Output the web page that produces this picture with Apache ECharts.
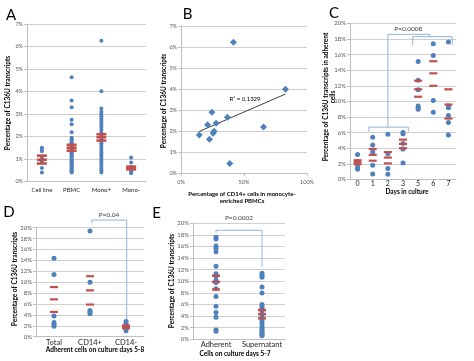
<!DOCTYPE html>
<html><head><meta charset="utf-8">
<script src="https://cdn.jsdelivr.net/npm/echarts/dist/echarts.min.js"></script>
<style>html,body{margin:0;padding:0;background:#fff}#c{width:474px;height:361px}</style>
</head><body><div id="c"></div><script>
// ---------- DATA ----------
// Panel A
const catsA = ['Cell line', 'PBMC', 'Mono+', 'Mono-'];
const A_cellLine = [1.5, 1.45, 1.35, 1.1, 1.0, 0.9, 0.6, 0.4];
const A_pbmc = [4.63, 3.6, 3.3, 2.74, 2.54, 2.19, 1.95, 1.88, 1.82, 1.75, 1.7, 1.65, 1.6, 1.55, 1.5, 1.45, 1.4, 1.35, 1.3, 1.25, 1.2, 1.15, 1.1, 1.05, 1.0, 0.95, 0.9, 0.85, 0.8, 0.75, 0.7, 0.65, 0.6, 0.55, 0.5, 0.45, 0.4];
const A_monoPos = [6.26, 4.01, 3.25, 3.1, 3.0, 2.9, 2.8, 2.7, 2.6, 2.5, 2.4, 2.3, 2.2, 2.1, 2.0, 1.9, 1.8, 1.7, 1.6, 1.5, 1.4, 1.3, 1.2, 1.1, 1.0, 0.9, 0.8, 0.7, 0.6, 0.5, 0.4];
const A_monoNeg = [1.07, 0.84, 0.65, 0.55, 0.45, 0.37];
const A_errHigh = [1.15, 1.63, 2.1, 0.66];
const A_mean = [0.97, 1.5, 1.97, 0.6];
const A_errLow = [0.8, 1.37, 1.82, 0.54];
const A_ticks = [0, 1, 2, 3, 4, 5, 6, 7];

// Panel B
const B_x = [41.6, 82.9, 24.5, 36.8, 27.9, 21.1, 65.5, 14.5, 26.3, 25.5, 22.6, 38.7];
const B_y = [6.23, 3.99, 2.9, 2.66, 2.38, 2.31, 2.2, 1.82, 2.0, 1.9, 1.62, 0.46];
const B_r2Text = 'R² = 0.1329';

// Panel C
const catsC = ['0', '1', '2', '3', '5', '6', '7'];
const C_day0 = [3.2, 2.3, 2.1, 1.9, 1.5, 1.3];
const C_day1 = [5.4, 4.4, 3.5, 1.8, 0.7];
const C_day2 = [5.8, 3.3, 1.4, 0.65];
const C_day3 = [6.0, 5.85, 4.6, 3.9, 2.1];
const C_day5 = [15.1, 12.7, 11.5, 9.4, 9.2, 9.0];
const C_day6 = [17.4, 15.9, 10.1, 8.6];
const C_day7 = [17.6, 9.4, 9.2, 8.2, 7.3, 5.7];
const C_errHigh = [2.45, 3.9, 3.5, 5.1, 12.65, 15.15, 11.55];
const C_mean = [2.2, 3.15, 2.8, 4.55, 11.55, 13.6, 9.6];
const C_errLow = [1.95, 2.4, 2.05, 4.0, 10.6, 12.0, 7.8];
const C_pText = 'P=0.0008';

// Panel D
const catsD = ['Total', 'CD14+', 'CD14-'];
const D_total = [14.4, 11.4, 3.8, 2.6, 2.3, 1.9];
const D_cd14pos = [19.4, 10.0, 4.8, 4.5, 4.2];
const D_cd14neg = [2.8, 2.4, 1.9, 1.7, 1.5, 1.1];
const D_errHigh = [9.1, 11.1, 2.05];
const D_mean = [6.85, 8.5, 1.8];
const D_errLow = [4.55, 5.9, 1.55];
const D_pText = 'P=0.04';

// Panel E
const catsE = ['Adherent', 'Supernatant'];
const E_adherent = [17.6, 17.3, 16.1, 15.7, 15.1, 12.6, 11.3, 10.9, 10.2, 9.8, 8.7, 7.4, 5.7, 4.6, 3.8, 1.6, 1.4];
const E_supernatant = [11.4, 11.0, 10.7, 9.0, 8.0, 6.0, 5.6, 5.3, 4.9, 4.2, 3.8, 3.2, 2.8, 2.3, 1.9, 1.6, 1.3, 1.0, 0.8, 0.6];
const E_errHigh = [10.95, 5.05];
const E_mean = [9.9, 4.35];
const E_errLow = [8.6, 3.6];
const E_pText = 'P=0.0002';

// Significance brackets (category position, value %)
const C_brackets = [
  [[0.75, 6.1], [0.75, 6.7], [3.35, 6.7], [3.35, 6.1]],
  [[2.0, 6.7], [2.0, 18.6], [4.78, 18.6], [4.78, 18.3]],
  [[3.64, 17.2], [3.64, 18.3], [6.25, 18.3], [6.25, 17.2]]
];
const C_pAt = [3.35, 19.3];
const D_brackets = [[[1.05, 20.8], [1.05, 21.4], [2.02, 21.4], [2.02, 3.1]]];
const D_pAt = [1.53, 22.3];
const E_brackets = [[[0, 18.4], [0, 18.8], [1, 18.8], [1, 12.5]]];
const E_pAt = [0.5, 20.9];

// ---------- STYLE ----------
const BLUE = '#4f81bd', RED = '#c0504d', BRK = '#95b3d7';
const FONT = 'Lato';
const GRID_C = '#cfcfcf', AXIS_C = '#bfbfbf', LBL_C = '#595959';

function pts(groups) {
  const out = [];
  groups.forEach((arr, i) => arr.forEach(v => out.push([i, v])));
  return out;
}
function yAx(gi, max, interval, fs) {
  return {
    type: 'value', gridIndex: gi, min: 0, max: max, interval: interval,
    axisLine: { show: true, lineStyle: { color: AXIS_C } },
    axisTick: { show: true, length: 3, lineStyle: { color: AXIS_C } },
    axisLabel: { fontSize: fs, color: LBL_C, margin: 4, fontFamily: FONT, formatter: '{value}%' },
    splitLine: { show: true, lineStyle: { color: GRID_C, width: 1 } }
  };
}
function xCat(gi, cats, fs, margin, color) {
  return {
    type: 'category', gridIndex: gi, data: cats, boundaryGap: true,
    axisLine: { show: true, lineStyle: { color: AXIS_C } },
    axisTick: { show: false },
    axisLabel: { fontSize: fs, color: color || '#262626', margin: margin, interval: 0, fontFamily: FONT },
    splitLine: { show: false }
  };
}
function scatter(gi, data, size, symbol) {
  return {
    type: 'scatter', xAxisIndex: gi, yAxisIndex: gi, data: data,
    symbol: symbol || 'circle', symbolSize: size,
    itemStyle: { color: BLUE, opacity: 1 }, silent: true, z: 2
  };
}
function errSeries(gi, lo, mid, hi, w, h, vline) {
  return {
    type: 'custom', xAxisIndex: gi, yAxisIndex: gi, z: 3, silent: true, clip: false,
    data: lo.map((l, i) => [i, l, mid[i], hi[i]]),
    encode: { x: 0, y: [1, 2, 3] },
    renderItem: function (params, api) {
      const x = api.value(0);
      const ps = [1, 2, 3].map(k => api.coord([x, api.value(k)]));
      const children = [];
      if (vline) {
        children.push({ type: 'line', shape: { x1: ps[0][0], y1: ps[0][1], x2: ps[2][0], y2: ps[2][1] },
          style: { stroke: RED, lineWidth: 1.2 } });
      }
      ps.forEach(p => children.push({ type: 'rect', shape: { x: p[0] - w / 2, y: p[1] - h / 2, width: w, height: h },
        style: { fill: RED } }));
      return { type: 'group', children: children };
    }
  };
}
function bracketSeries(gi, lines, pAt, text) {
  return {
    type: 'custom', xAxisIndex: gi, yAxisIndex: gi, z: 1, silent: true, clip: false,
    data: [[0, 0]], encode: { x: 0, y: 1 },
    renderItem: function (params, api) {
      const x0 = api.coord([0, 0])[0];
      const bw = api.coord([1, 0])[0] - x0;
      const P = p => [x0 + p[0] * bw, api.coord([0, p[1]])[1]];
      const children = lines.map(l => ({ type: 'polyline', shape: { points: l.map(P) },
        style: { stroke: BRK, lineWidth: 1, fill: null } }));
      const t = P(pAt);
      children.push({ type: 'text', x: t[0], y: t[1], style: { text: text, align: 'center', verticalAlign: 'middle',
        fontSize: 6.5, fontFamily: FONT, fill: '#404040' } });
      return { type: 'group', children: children };
    }
  };
}

// regression for B
const n = B_x.length;
const mx = B_x.reduce((a, b) => a + b, 0) / n, my = B_y.reduce((a, b) => a + b, 0) / n;
let sxy = 0, sxx = 0;
for (let i = 0; i < n; i++) { sxy += (B_x[i] - mx) * (B_y[i] - my); sxx += (B_x[i] - mx) ** 2; }
const slope = sxy / sxx, icpt = my - slope * mx;
const xmin = Math.min(...B_x), xmax = Math.max(...B_x);

function txt(x, y, text, fs, bold, rot, extra) {
  return Object.assign({ type: 'text', x: x, y: y, rotation: rot || 0, silent: true,
    style: { text: text, align: 'center', verticalAlign: 'middle', fontSize: fs, fontFamily: FONT,
      fontWeight: bold ? 'bold' : 'normal', fill: '#000', lineHeight: fs + 1.2 } }, extra || {});
}
const R90 = Math.PI / 2;

const option = {
  backgroundColor: '#fff',
  animation: false,
  grid: [
    { left: 27, top: 24, width: 119, height: 157.5 },
    { left: 181, top: 26, width: 126, height: 147.3 },
    { left: 350, top: 23.4, width: 106, height: 156 },
    { left: 36, top: 227.7, width: 108, height: 109 },
    { left: 193, top: 223.3, width: 92, height: 116 }
  ],
  xAxis: [
    xCat(0, catsA, 6, 6),
    { type: 'value', gridIndex: 1, min: 0, max: 100, interval: 50,
      axisLine: { show: true, lineStyle: { color: AXIS_C } },
      axisTick: { show: true, length: 3, lineStyle: { color: AXIS_C } },
      axisLabel: { fontSize: 5.5, color: LBL_C, margin: 6, fontFamily: FONT, formatter: '{value}%' },
      splitLine: { show: false } },
    xCat(2, catsC, 7, 1),
    xCat(3, catsD, 7.5, 1.5),
    xCat(4, catsE, 7.5, 1.5)
  ],
  yAxis: [
    yAx(0, A_ticks[A_ticks.length - 1], 1, 5.5),
    yAx(1, 7, 1, 5.5),
    yAx(2, 20, 2, 6),
    yAx(3, 20, 2, 6),
    yAx(4, 20, 2, 6)
  ],
  series: [
    scatter(0, pts([A_cellLine, A_pbmc, A_monoPos, A_monoNeg]), 4),
    errSeries(0, A_errLow, A_mean, A_errHigh, 10, 2.6, true),
    scatter(1, B_x.map((x, i) => [x, B_y[i]]), 7, 'diamond'),
    { type: 'line', xAxisIndex: 1, yAxisIndex: 1, symbol: 'none', silent: true,
      data: [[xmin, icpt + slope * xmin], [xmax, icpt + slope * xmax]],
      lineStyle: { color: '#404040', width: 1 }, z: 1 },
    bracketSeries(2, C_brackets, C_pAt, C_pText),
    scatter(2, pts([C_day0, C_day1, C_day2, C_day3, C_day5, C_day6, C_day7]), 5),
    errSeries(2, C_errLow, C_mean, C_errHigh, 8, 2.2, false),
    bracketSeries(3, D_brackets, D_pAt, D_pText),
    scatter(3, pts([D_total, D_cd14pos, D_cd14neg]), 5),
    errSeries(3, D_errLow, D_mean, D_errHigh, 8, 2.2, false),
    bracketSeries(4, E_brackets, E_pAt, E_pText),
    scatter(4, pts([E_adherent, E_supernatant]), 5),
    errSeries(4, E_errLow, E_mean, E_errHigh, 8, 2.4, false)
  ],
  graphic: [
    txt(11, 15, 'A', 15, false),
    txt(187.5, 14.5, 'B', 15, false),
    txt(334, 13, 'C', 15, false),
    txt(9, 212, 'D', 15, false),
    txt(156.5, 213, 'E', 15, false),
    txt(7.5, 103, 'Percentage of C136U transcripts', 6.5, true, R90),
    txt(164, 101, 'Percentage of C136U transcripts', 6.5, true, R90),
    txt(329.5, 97, 'Percentage of C136U transcripts in adherent\ncells', 6.5, true, R90),
    txt(15, 279, 'Percentage of C136U transcripts', 6.5, true, R90),
    txt(171.5, 281, 'Percentage of C136U transcripts', 6.5, true, R90),
    txt(242, 197.5, 'Percentage of CD14+ cells in monocyte-\nenriched PBMCs', 6, true),
    txt(245, 99, B_r2Text, 6, false),
    txt(407, 192, 'Days in culture', 6.5, true),
    txt(95, 349.5, 'Adherent cells on culture days 5-8', 6.5, true),
    txt(235, 353.5, 'Cells on culture days 5-7', 6.5, true)
  ]
};
const chart = echarts.init(document.getElementById('c'), null, { renderer: 'canvas', width: 474, height: 361 });
chart.setOption(option);
</script></body></html>
